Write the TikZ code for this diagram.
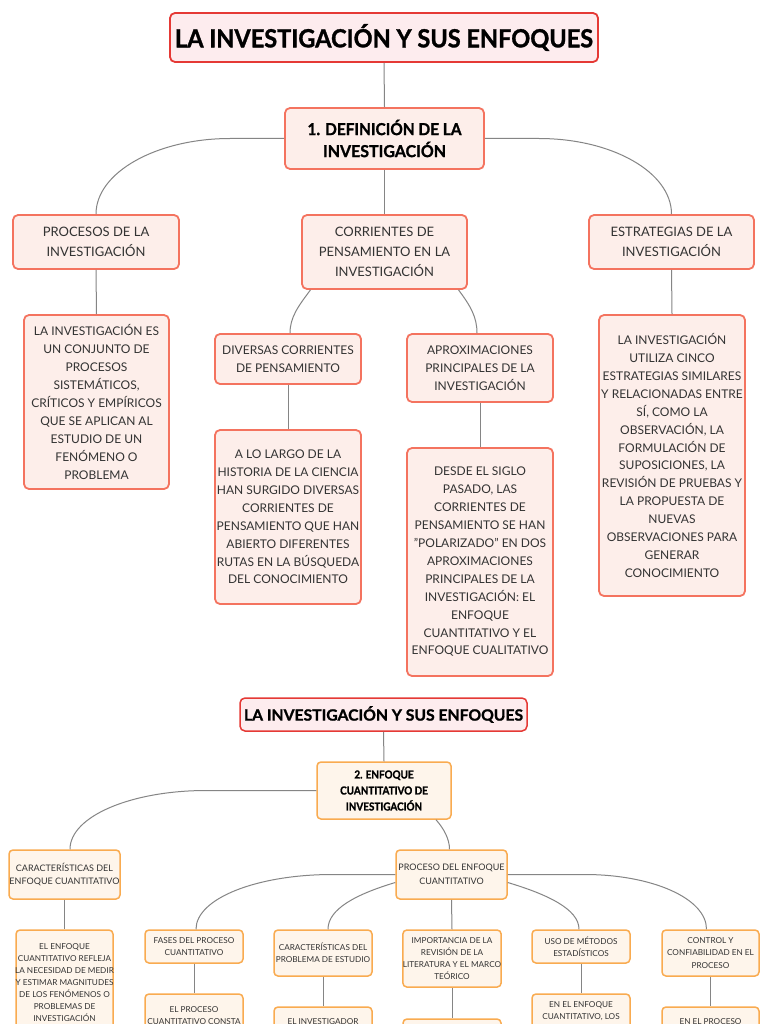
\documentclass[tikz,border=0pt]{standalone}
\usepackage{fontspec}
\setmainfont{Lato}[BoldFeatures={FakeBold=1.3}]
\usepackage{graphicx}
\definecolor{tbord}{HTML}{E53935}
\definecolor{tfill}{HTML}{FDECEE}
\definecolor{rbord}{HTML}{F4735F}
\definecolor{rfill}{HTML}{FDEEEA}
\definecolor{obord}{HTML}{F9AB50}
\definecolor{ofill}{HTML}{FEF5EB}
\definecolor{lgray}{HTML}{858585}
\definecolor{txt}{HTML}{333333}
\begin{document}
\begin{tikzpicture}[x=1pt,y=-1pt,
  base/.style={rounded corners=5pt, inner sep=0pt, align=center, text=txt},
  titlebox/.style={base, draw=tbord, fill=tfill, line width=1.8pt, text=black},
  redbox/.style={base, draw=rbord, fill=rfill, line width=1.8pt},
  orbox/.style={base, draw=obord, fill=ofill, line width=1.5pt, rounded corners=4pt},
  hdrA/.style={font=\fontsize{13}{20}\selectfont},
  hdrB/.style={font=\fontsize{12}{18}\selectfont},
  descA/.style={font=\fontsize{12}{17.9}\selectfont},
  hdrC/.style={font=\fontsize{9}{13.5}\selectfont},
  small/.style={font=\fontsize{8.2}{12.2}\selectfont},
  dtext/.style={inner sep=0pt, align=center, text=txt, font=\fontsize{8.2}{12.1}\selectfont, anchor=north},
  conn/.style={draw=lgray, line width=1pt}
]
\useasboundingbox (0,0) rectangle (768,1024);
\clip (0,0) rectangle (768,1024);
\fill[white] (0,0) rectangle (768,1024);

% ---------- section 1 ----------
\node[titlebox, minimum width=428pt, minimum height=49pt] (t) at (384,37.5)
  {\resizebox{418pt}{\height}{\fontsize{25}{25}\selectfont\bfseries LA INVESTIGACIÓN Y SUS ENFOQUES}};
\node[redbox, minimum width=199pt, minimum height=61pt, font=\fontsize{16.5}{22}\selectfont\bfseries, text=black] (n1) at (384.5,138.5)
  {\resizebox{154pt}{\height}{1. DEFINICIÓN DE LA}\\\resizebox{123pt}{\height}{INVESTIGACIÓN}};
\node[redbox, hdrA, minimum width=166pt, minimum height=54pt] (proc) at (96,242) {PROCESOS DE LA\\INVESTIGACIÓN};
\node[redbox, hdrA, minimum width=165pt, minimum height=74pt] (cor) at (384.5,252) {CORRIENTES DE\\PENSAMIENTO EN LA\\INVESTIGACIÓN};
\node[redbox, hdrA, minimum width=165pt, minimum height=54pt] (est) at (671.5,242) {ESTRATEGIAS DE LA\\INVESTIGACIÓN};
\node[redbox, descA, minimum width=145pt, minimum height=174pt] (procd) at (96.5,402)
  {LA INVESTIGACIÓN ES\\UN CONJUNTO DE\\PROCESOS\\SISTEMÁTICOS,\\CRÍTICOS Y EMPÍRICOS\\QUE SE APLICAN AL\\ESTUDIO DE UN\\FENÓMENO O\\PROBLEMA};
\node[redbox, hdrB, minimum width=146pt, minimum height=50pt] (div) at (288,359) {DIVERSAS CORRIENTES\\DE PENSAMIENTO};
\node[redbox, hdrB, minimum width=146pt, minimum height=68pt] (apr) at (480,368) {APROXIMACIONES\\PRINCIPALES DE LA\\INVESTIGACIÓN};
\node[redbox, descA, minimum width=146pt, minimum height=174pt] (divd) at (288,517)
  {A LO LARGO DE LA\\HISTORIA DE LA CIENCIA\\HAN SURGIDO DIVERSAS\\CORRIENTES DE\\PENSAMIENTO QUE HAN\\ABIERTO DIFERENTES\\RUTAS EN LA BÚSQUEDA\\DEL CONOCIMIENTO};
\node[redbox, descA, minimum width=146pt, minimum height=228pt] (aprd) at (480,562)
  {DESDE EL SIGLO\\PASADO, LAS\\CORRIENTES DE\\PENSAMIENTO SE HAN\\"POLARIZADO" EN DOS\\APROXIMACIONES\\PRINCIPALES DE LA\\INVESTIGACIÓN: EL\\ENFOQUE\\CUANTITATIVO Y EL\\ENFOQUE CUALITATIVO};
\node[redbox, descA, minimum width=146pt, minimum height=281pt] (estd) at (672,455.5)
  {LA INVESTIGACIÓN\\UTILIZA CINCO\\ESTRATEGIAS SIMILARES\\Y RELACIONADAS ENTRE\\SÍ, COMO LA\\OBSERVACIÓN, LA\\FORMULACIÓN DE\\SUPOSICIONES, LA\\REVISIÓN DE PRUEBAS Y\\LA PROPUESTA DE\\NUEVAS\\OBSERVACIONES PARA\\GENERAR\\CONOCIMIENTO};

\draw[conn] (t.south) -- (n1.north);
\draw[conn] (n1.west) -- ++(-54,0) .. controls +(-73,0) and +(0,-42) .. (proc.north);
\draw[conn] (n1.east) -- ++(54,0) .. controls +(73,0) and +(0,-42) .. (est.north);
\draw[conn] (n1.south) -- (cor.north);
\draw[conn] (proc.south) -- (procd.north);
\draw[conn] ([xshift=-74pt]cor.south) .. controls +(-12,16) and +(0,-16) .. ([xshift=2pt]div.north);
\draw[conn] ([xshift=74pt]cor.south) .. controls +(12,16) and +(0,-16) .. ([xshift=-3pt]apr.north);
\draw[conn] (div.south) -- (divd.north);
\draw[conn] (apr.south) -- (aprd.north);
\draw[conn] (est.south) -- (estd.north);

% ---------- section 2 ----------
\node[titlebox, line width=1.5pt, minimum width=287pt, minimum height=33pt] (t2) at (383.5,714.5)
  {\resizebox{279pt}{\height}{\fontsize{15.5}{15.5}\selectfont\bfseries LA INVESTIGACIÓN Y SUS ENFOQUES}};
\node[orbox, minimum width=134pt, minimum height=57pt, font=\fontsize{11}{16}\selectfont\bfseries, text=black] (n2) at (384,790.5)
  {\scalebox{0.9}[1]{2. ENFOQUE}\\\scalebox{0.9}[1]{CUANTITATIVO DE}\\\scalebox{0.9}[1]{INVESTIGACIÓN}};
\node[orbox, hdrC, minimum width=111pt, minimum height=49pt] (car) at (64.5,874.5) {CARACTERÍSTICAS DEL\\ENFOQUE CUANTITATIVO};
\node[orbox, hdrC, minimum width=111pt, minimum height=49pt] (pro) at (451.5,874.5) {PROCESO DEL ENFOQUE\\CUANTITATIVO};
\node[orbox, small, minimum width=98pt, minimum height=33pt] (fas) at (194,946.5) {FASES DEL PROCESO\\CUANTITATIVO};
\node[orbox, small, minimum width=98pt, minimum height=46pt] (carp) at (323,953) {CARACTERÍSTICAS DEL\\PROBLEMA DE ESTUDIO};
\node[orbox, small, minimum width=98pt, minimum height=57pt] (imp) at (452,958.5) {IMPORTANCIA DE LA\\REVISIÓN DE LA\\LITERATURA Y EL MARCO\\TEÓRICO};
\node[orbox, small, minimum width=98pt, minimum height=33pt] (uso) at (581,946.5) {USO DE MÉTODOS\\ESTADÍSTICOS};
\node[orbox, small, minimum width=97pt, minimum height=46pt] (ctrl) at (710.5,953) {CONTROL Y\\CONFIABILIDAD EN EL\\PROCESO};

\node[orbox, minimum width=97pt, minimum height=140pt] (card) at (64.5,1000) {};
\node[orbox, minimum width=98pt, minimum height=100pt] (fasd) at (194,1044) {};
\node[orbox, minimum width=98pt, minimum height=100pt] (carpd) at (323,1057) {};
\node[orbox, minimum width=98pt, minimum height=100pt] (impd) at (452,1069) {};
\node[orbox, minimum width=98pt, minimum height=100pt] (usod) at (581,1044) {};
\node[orbox, minimum width=97pt, minimum height=100pt] (ctrld) at (710.5,1057) {};

\node[dtext] (cardt) at ([yshift=-13.7pt]card.north)
  {EL ENFOQUE\\CUANTITATIVO REFLEJA\\LA NECESIDAD DE MEDIR\\Y ESTIMAR MAGNITUDES\\DE LOS FENÓMENOS O\\PROBLEMAS DE\\INVESTIGACIÓN};
\node[dtext] (fasdt) at ([yshift=-12.7pt]fasd.north) {EL PROCESO\\CUANTITATIVO CONSTA};
\node[dtext] (carpdt) at ([yshift=-11.7pt]carpd.north) {EL INVESTIGADOR};
\node[dtext] (usodt) at ([yshift=-7.7pt]usod.north) {EN EL ENFOQUE\\CUANTITATIVO, LOS};
\node[dtext] (ctrldt) at ([yshift=-11.7pt]ctrld.north) {EN EL PROCESO};

\draw[conn] (t2.south) -- (n2.north);
\draw[conn] (n2.west) -- ++(-110,0) .. controls +(-75,0) and +(0,-33) .. ([xshift=5.5pt]car.north);
\draw[conn] ([xshift=52pt]n2.south) .. controls +(8,9) and +(0,-10) .. ([xshift=-2pt]pro.north);
\draw[conn] (pro.west) -- ++(-63,0) .. controls +(-75,0) and +(0,-31) .. ([xshift=2pt]fas.north);
\draw[conn] ([yshift=-8pt]pro.west) .. controls +(-40,12) and +(0,-20) .. ([xshift=5pt]carp.north);
\draw[conn] (pro.south) -- (imp.north);
\draw[conn] ([yshift=-8pt]pro.east) .. controls +(40,12) and +(0,-20) .. ([xshift=-2pt]uso.north);
\draw[conn] (pro.east) -- ++(77,0) .. controls +(67,0) and +(0,-31) .. ([xshift=-4pt]ctrl.north);
\draw[conn] (car.south) -- (card.north);
\draw[conn] (fas.south) -- (fasd.north);
\draw[conn] (carp.south) -- (carpd.north);
\draw[conn] (imp.south) -- (impd.north);
\draw[conn] (uso.south) -- (usod.north);
\draw[conn] (ctrl.south) -- (ctrld.north);
\end{tikzpicture}
\end{document}
